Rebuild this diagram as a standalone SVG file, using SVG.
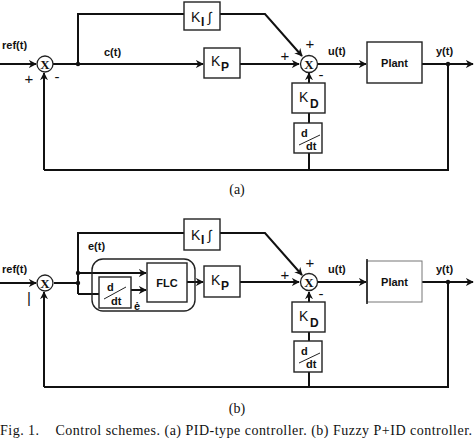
<svg xmlns="http://www.w3.org/2000/svg" width="474" height="438" viewBox="0 0 474 438">
<defs>
<marker id="ar" viewBox="0 0 10 10" refX="9" refY="5" markerWidth="8" markerHeight="8" orient="auto" markerUnits="userSpaceOnUse">
<path d="M0,0 L10,5 L0,10 L3,5 z" fill="#111"/>
</marker>
<style>
.ln{fill:none;stroke:#111;stroke-width:2}
.ar{marker-end:url(#ar)}
.bx{fill:#fff;stroke:#222;stroke-width:1.4}
.sum{fill:#fff;stroke:#222;stroke-width:1.3}
.lb{font-family:"Liberation Sans",Arial,sans-serif;font-weight:bold;font-size:11px;fill:#111}
.k{font-family:"Liberation Sans",Arial,sans-serif;font-size:14px;fill:#111}
.ks{font-family:"Liberation Sans",Arial,sans-serif;font-weight:bold;font-size:12px;fill:#111}
.pm{font-family:"Liberation Sans",Arial,sans-serif;font-size:15px;fill:#111}
.x{font-family:"Liberation Serif","Times New Roman",serif;font-weight:bold;font-size:13px;fill:#111}
.cap{font-family:"Liberation Serif","Times New Roman",serif;font-size:14px;fill:#111}
.dd{font-family:"Liberation Sans",Arial,sans-serif;font-weight:bold;font-size:11px;fill:#111}
</style>
</defs>
<rect width="474" height="438" fill="#fff"/>

<g id="connectors">
<!-- (a) -->
<path class="ln ar" d="M0,64 L36,64"/>
<path class="ln ar" d="M44,170 L44,73"/>
<path class="ln ar" d="M53,64 L203,64"/>
<path class="ln" d="M78,64 L78,14 L184,14"/>
<path class="ln ar" d="M220,14 L265,14 L302,56"/>
<path class="ln ar" d="M240,64 L299,64"/>
<path class="ln ar" d="M318,64 L366,64"/>
<path class="ln ar" d="M422,64 L473,64"/>
<path class="ln" d="M448,64 L448,170 L44,170"/>
<path class="ln ar" d="M309,83 L309,73"/>
<path class="ln" d="M309,113 L309,123"/>
<path class="ln" d="M309,153 L309,170"/>
<circle cx="78" cy="64" r="2.2" fill="#111"/>
<circle cx="448" cy="64" r="2.2" fill="#111"/>
<!-- (b) -->
<path class="ln ar" d="M0,283 L36,283"/>
<path class="ln ar" d="M44,387 L44,292"/>
<path class="ln" d="M54,283 L78,283"/>
<path class="ln" d="M78,294 L78,233 L184,233"/>
<path class="ln ar" d="M78,273 L146,273"/>
<path class="ln" d="M78,294 L99,294"/>
<path class="ln ar" d="M131,290 L146,290"/>
<path class="ln ar" d="M187,282 L203,282"/>
<path class="ln ar" d="M220,233 L265,233 L302,275"/>
<path class="ln ar" d="M240,282 L299,282"/>
<path class="ln ar" d="M318,282 L366,282"/>
<path class="ln ar" d="M422,282 L473,282"/>
<path class="ln" d="M448,282 L448,387 L44,387"/>
<path class="ln ar" d="M309,302 L309,292"/>
<path class="ln" d="M309,332 L309,341"/>
<path class="ln" d="M309,372 L309,387"/>
<circle cx="78" cy="273" r="2.2" fill="#111"/>
<circle cx="78" cy="283" r="2.2" fill="#111"/>
<circle cx="448" cy="282" r="2.2" fill="#111"/>
</g>

<!-- (a) nodes -->
<g id="sum1a">
<circle class="sum" cx="45" cy="64" r="8"/>
<text class="x" x="45" y="68.5" text-anchor="middle">X</text>
<text class="pm" x="29" y="84" text-anchor="middle">+</text>
<text class="pm" x="57" y="82" text-anchor="middle">-</text>
<text class="lb" x="2" y="49">ref(t)</text>
</g>
<g id="kia">
<rect class="bx" x="184" y="2" width="36" height="28"/>
<text class="k" x="191" y="22">K</text><text class="ks" x="201" y="26">I</text>
<text class="k" x="208" y="22" font-size="15">∫</text>
</g>
<g id="kpa">
<rect class="bx" x="204" y="48" width="36" height="30"/>
<text class="k" x="211" y="66">K</text><text class="ks" x="221" y="71">P</text>
<text class="lb" x="104" y="56">c(t)</text>
</g>
<g id="sum2a">
<circle class="sum" cx="309" cy="64" r="8.5"/>
<text class="x" x="309" y="68.5" text-anchor="middle">X</text>
<text class="pm" x="310" y="49" text-anchor="middle">+</text>
<text class="pm" x="285" y="61" text-anchor="middle">+</text>
<text class="pm" x="321" y="80" text-anchor="middle">-</text>
<text class="lb" x="328" y="55">u(t)</text>
</g>
<g id="planta">
<rect class="bx" x="367" y="42" width="55" height="41"/>
<text class="lb" x="394.5" y="67" font-size="12" text-anchor="middle">Plant</text>
<text class="lb" x="436" y="55">y(t)</text>
</g>
<g id="kda">
<rect class="bx" x="292" y="83" width="33" height="30"/>
<text class="k" x="299" y="102">K</text><text class="ks" x="310" y="108">D</text>
</g>
<g id="ddta">
<rect class="bx" x="294" y="123" width="28" height="30"/>
<text class="dd" x="301" y="137">d</text>
<line x1="299" y1="145" x2="320" y2="135" stroke="#222" stroke-width="1"/>
<text class="dd" x="306" y="150">dt</text>
</g>
<text class="cap" x="237" y="194" text-anchor="middle">(a)</text>

<!-- (b) nodes -->
<g id="sum1b">
<circle class="sum" cx="45" cy="283" r="8"/>
<text class="x" x="45" y="287.5" text-anchor="middle">X</text>
<text class="pm" x="29" y="303" text-anchor="middle" font-size="13">|</text>
<text class="lb" x="2" y="273">ref(t)</text>
</g>
<g id="flcgroup">
<rect x="92" y="259" width="103" height="52" rx="11" fill="none" stroke="#222" stroke-width="1.4"/>
<text class="lb" x="88" y="250">e(t)</text>
</g>
<g id="ddtb1">
<rect class="bx" x="99" y="277" width="32" height="31"/>
<text class="dd" x="107" y="291" font-size="12">d</text>
<line x1="104" y1="299" x2="126" y2="287" stroke="#222" stroke-width="1"/>
<text class="dd" x="111" y="305" font-size="12">dt</text>
<text class="lb" x="134" y="310" font-size="12">ė</text>
</g>
<g id="flc">
<rect class="bx" x="147" y="263" width="40" height="39"/>
<text class="lb" x="167" y="287" font-size="13" text-anchor="middle">FLC</text>
</g>
<g id="kib">
<rect class="bx" x="184" y="219" width="36" height="31"/>
<text class="k" x="191" y="240">K</text><text class="ks" x="201" y="244">I</text>
<text class="k" x="208" y="240" font-size="15">∫</text>
</g>
<g id="kpb">
<rect class="bx" x="204" y="266" width="36" height="31"/>
<text class="k" x="211" y="285">K</text><text class="ks" x="221" y="290">P</text>
</g>
<g id="sum2b">
<circle class="sum" cx="309" cy="282" r="8.5"/>
<text class="x" x="309" y="286.5" text-anchor="middle">X</text>
<text class="pm" x="310" y="268" text-anchor="middle">+</text>
<text class="pm" x="285" y="280" text-anchor="middle">+</text>
<text class="pm" x="321" y="299" text-anchor="middle">-</text>
<text class="lb" x="328" y="273">u(t)</text>
</g>
<g id="plantb">
<rect x="367" y="261" width="55" height="41" fill="#fff" stroke="#777" stroke-width="1"/>
<line x1="367" y1="259" x2="367" y2="304" stroke="#111" stroke-width="1.5"/>
<text class="lb" x="394.5" y="286" font-size="12" text-anchor="middle">Plant</text>
<text class="lb" x="436" y="273">y(t)</text>
</g>
<g id="kdb">
<rect class="bx" x="292" y="302" width="33" height="30"/>
<text class="k" x="299" y="321">K</text><text class="ks" x="310" y="327">D</text>
</g>
<g id="ddtb">
<rect class="bx" x="294" y="341" width="28" height="31"/>
<text class="dd" x="301" y="355">d</text>
<line x1="299" y1="363" x2="320" y2="353" stroke="#222" stroke-width="1"/>
<text class="dd" x="306" y="368">dt</text>
</g>
<text class="cap" x="237" y="413" text-anchor="middle">(b)</text>
<text class="cap" x="0" y="435" font-size="14" textLength="472" lengthAdjust="spacing" xml:space="preserve">Fig. 1.    Control schemes. (a) PID-type controller. (b) Fuzzy P+ID controller.</text>
</svg>
